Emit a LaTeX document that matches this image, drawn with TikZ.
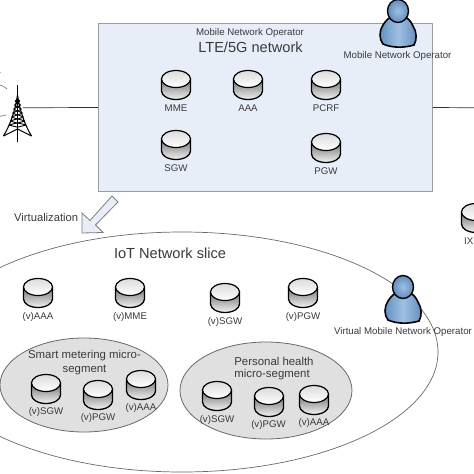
\documentclass[tikz,border=0pt]{standalone}
\usepackage{fontspec}
\setmainfont{Liberation Sans}
\definecolor{txt}{HTML}{3A3A3A}
\definecolor{panel}{HTML}{E8EEF7}
\definecolor{panelline}{HTML}{9A9DA2}
\definecolor{seg}{HTML}{E0E0E0}
\definecolor{ringline}{HTML}{6A6A6A}
\definecolor{pblue}{HTML}{7FAAD6}
\definecolor{pdark}{HTML}{5F8FC0}
\definecolor{plight}{HTML}{9FC0E2}
\tikzset{
  lab/.style={text=txt,font=\fontsize{9.7}{11}\selectfont,inner sep=0pt},
  head/.style={text=txt,font=\fontsize{14.6}{17}\selectfont,inner sep=0pt},
  seglab/.style={text=txt,font=\fontsize{11.4}{13}\selectfont,inner sep=0pt},
  wire/.style={draw=black!80,line width=0.7pt},
  dbcyl/.pic={
    \path[draw=black,line width=1.3pt,top color=black!55,bottom color=black!5]
      (-14.5,-6) -- (-14.5,6) arc[start angle=180,end angle=0,x radius=14.5,y radius=8.5]
      -- (14.5,-6) -- cycle;
    \path[draw=black,line width=1.2pt,top color=black!14,bottom color=white]
      (0,-6) ellipse[x radius=14.5,y radius=8.5];
  },
  operator/.pic={
    \path[draw=black,line width=1.6pt,left color=pdark,right color=pdark,middle color=plight]
      (-15,19) .. controls (-19,14) and (-19,6) .. (-15,0)
      .. controls (-12,-5) and (-8,-8) .. (-5,-9)
      -- (5,-9)
      .. controls (9,-8) and (13,-4) .. (15,1)
      .. controls (19,7) and (19,15) .. (16,20)
      .. controls (6,23) and (-6,23) .. (-15,19) -- cycle;
    \path[draw=black,line width=1.4pt,inner color=plight,outer color=pdark]
      (0,-14) ellipse[x radius=10.5,y radius=11.5];
  },
}
\begin{document}
\begin{tikzpicture}[x=1pt,y=-1pt]
\useasboundingbox (0,0) rectangle (474,474);
\clip (0,0) rectangle (474,474);
\fill[white] (0,0) rectangle (474,474);

% free line ends
\coordinate (towerfeed) at (23,107.75);
\coordinate (rightend) at (474,107.75);

% core network
\node[draw=panelline,fill=panel,line width=0.9pt,minimum width=334pt,minimum height=168pt,inner sep=0pt] (core) at (265.5,107.5) {};
\draw[wire] (towerfeed) -- (core.west);
\draw[wire] (core.east) -- (rightend);

% radio waves
\draw[black!40,line width=0.6pt] (-6,70) -- (1,73);
\draw[black!55,line width=0.6pt] (-3,84) .. controls (0,85) and (4,86) .. (7,89);
\draw[black!55,line width=0.6pt] (-3,117) .. controls (0,116) and (3,116) .. (6,115);

% tower
\begin{scope}[black,line width=0.9pt]
\draw[line width=1.5pt] (17.5,85) -- (17.5,101);
\draw[line width=1.1pt] (17.5,95) .. controls (15,112) and (10,125) .. (3.5,136);
\draw[line width=1.1pt] (17.5,95) .. controls (20,112) and (25,125) .. (31.5,136);
\draw[line width=1.1pt] (17.5,95) -- (17.5,142);
\draw (3.5,136) -- (17.5,129) -- (31.5,136);
\foreach \yy/\ww in {101/2.2,105/3,109/3.9,113/4.9,117/6,121/7.2,125/8.6}{
  \draw (17.5-\ww,\yy) -- (17.5,\yy+2.2) -- (17.5+\ww,\yy);
  \draw (17.5-\ww,\yy) -- (17.5,\yy-2.2) -- (17.5+\ww,\yy);
}
\end{scope}

% virtualization arrow
\draw[panelline!80!black,fill=panel,line width=0.8pt,line join=miter]
  (112,196) -- (118,202) -- (95.5,225) -- (103,232.5) -- (82,233) -- (82,213) -- (90,220.5) -- cycle;
\node[lab,anchor=west,font=\fontsize{11.2}{13}\selectfont] (virt) at (14,217.5) {Virtualization};

% titles
\node[lab] (motop) at (250,33) {Mobile Network Operator};
\node[head] (lte) at (250.5,47.5) {LTE/5G network};

% core functions
\pic at (176,85) {dbcyl};
\node[lab] (lmme) at (176,108.5) {MME};
\pic at (248,85) {dbcyl};
\node[lab] (laaa) at (248,108.5) {AAA};
\pic at (326,85) {dbcyl};
\node[lab] (lpcrf) at (326,108.5) {PCRF};
\pic at (176,145) {dbcyl};
\node[lab] (lsgw) at (176,168.5) {SGW};
\pic at (326,148) {dbcyl};
\node[lab] (lpgw) at (326,171.5) {PGW};

% operator
\pic at (398,25) {operator};
\node[lab] (mor) at (397.5,56) {Mobile Network Operator};

% IX
\pic at (476,218) {dbcyl};
\node[lab,anchor=east] (ix) at (473.5,241) {IX};

% slice
\draw[ringline,line width=0.7pt] (182,352) ellipse[x radius=256,y radius=120];
\node[head] (slice) at (170,253) {IoT Network slice};

\pic at (38,293) {dbcyl};
\node[lab] (vaaa) at (38,316.5) {(v)AAA};
\pic at (130,293) {dbcyl};
\node[lab] (vmme) at (130,316.5) {(v)MME};
\pic at (225,298) {dbcyl};
\node[lab] (vsgw) at (225,322) {(v)SGW};
\pic at (303,293) {dbcyl};
\node[lab] (vpgw) at (303,316.5) {(v)PGW};

% operator of slice
\pic at (403,301) {operator};
\node[lab] (vmno) at (403,331.5) {Virtual Mobile Network Operator};

% micro-segments
\draw[ringline,fill=seg,line width=0.8pt] (84,385) ellipse[x radius=84,y radius=47];
\draw[ringline,fill=seg,line width=0.8pt] (266,390.5) ellipse[x radius=86,y radius=48.5];

\node[seglab] (sm1) at (84.5,355.5) {Smart metering micro-};
\node[seglab] (sm2) at (84.5,369.5) {segment};
\node[seglab] (ph1) at (274,361) {Personal health};
\node[seglab] (ph2) at (272,375) {micro-segment};

\pic at (46,389) {dbcyl};
\node[lab] (s1) at (46,412) {(v)SGW};
\pic at (98,395) {dbcyl};
\node[lab] (s2) at (98,418) {(v)PGW};
\pic at (141,385) {dbcyl};
\node[lab] (s3) at (141,408) {(v)AAA};

\pic at (217,396) {dbcyl};
\node[lab] (p1) at (217,420) {(v)SGW};
\pic at (269,402) {dbcyl};
\node[lab] (p2) at (268.5,425) {(v)PGW};
\pic at (314,400) {dbcyl};
\node[lab] (p3) at (314,423) {(v)AAA};
\end{tikzpicture}
\end{document}
